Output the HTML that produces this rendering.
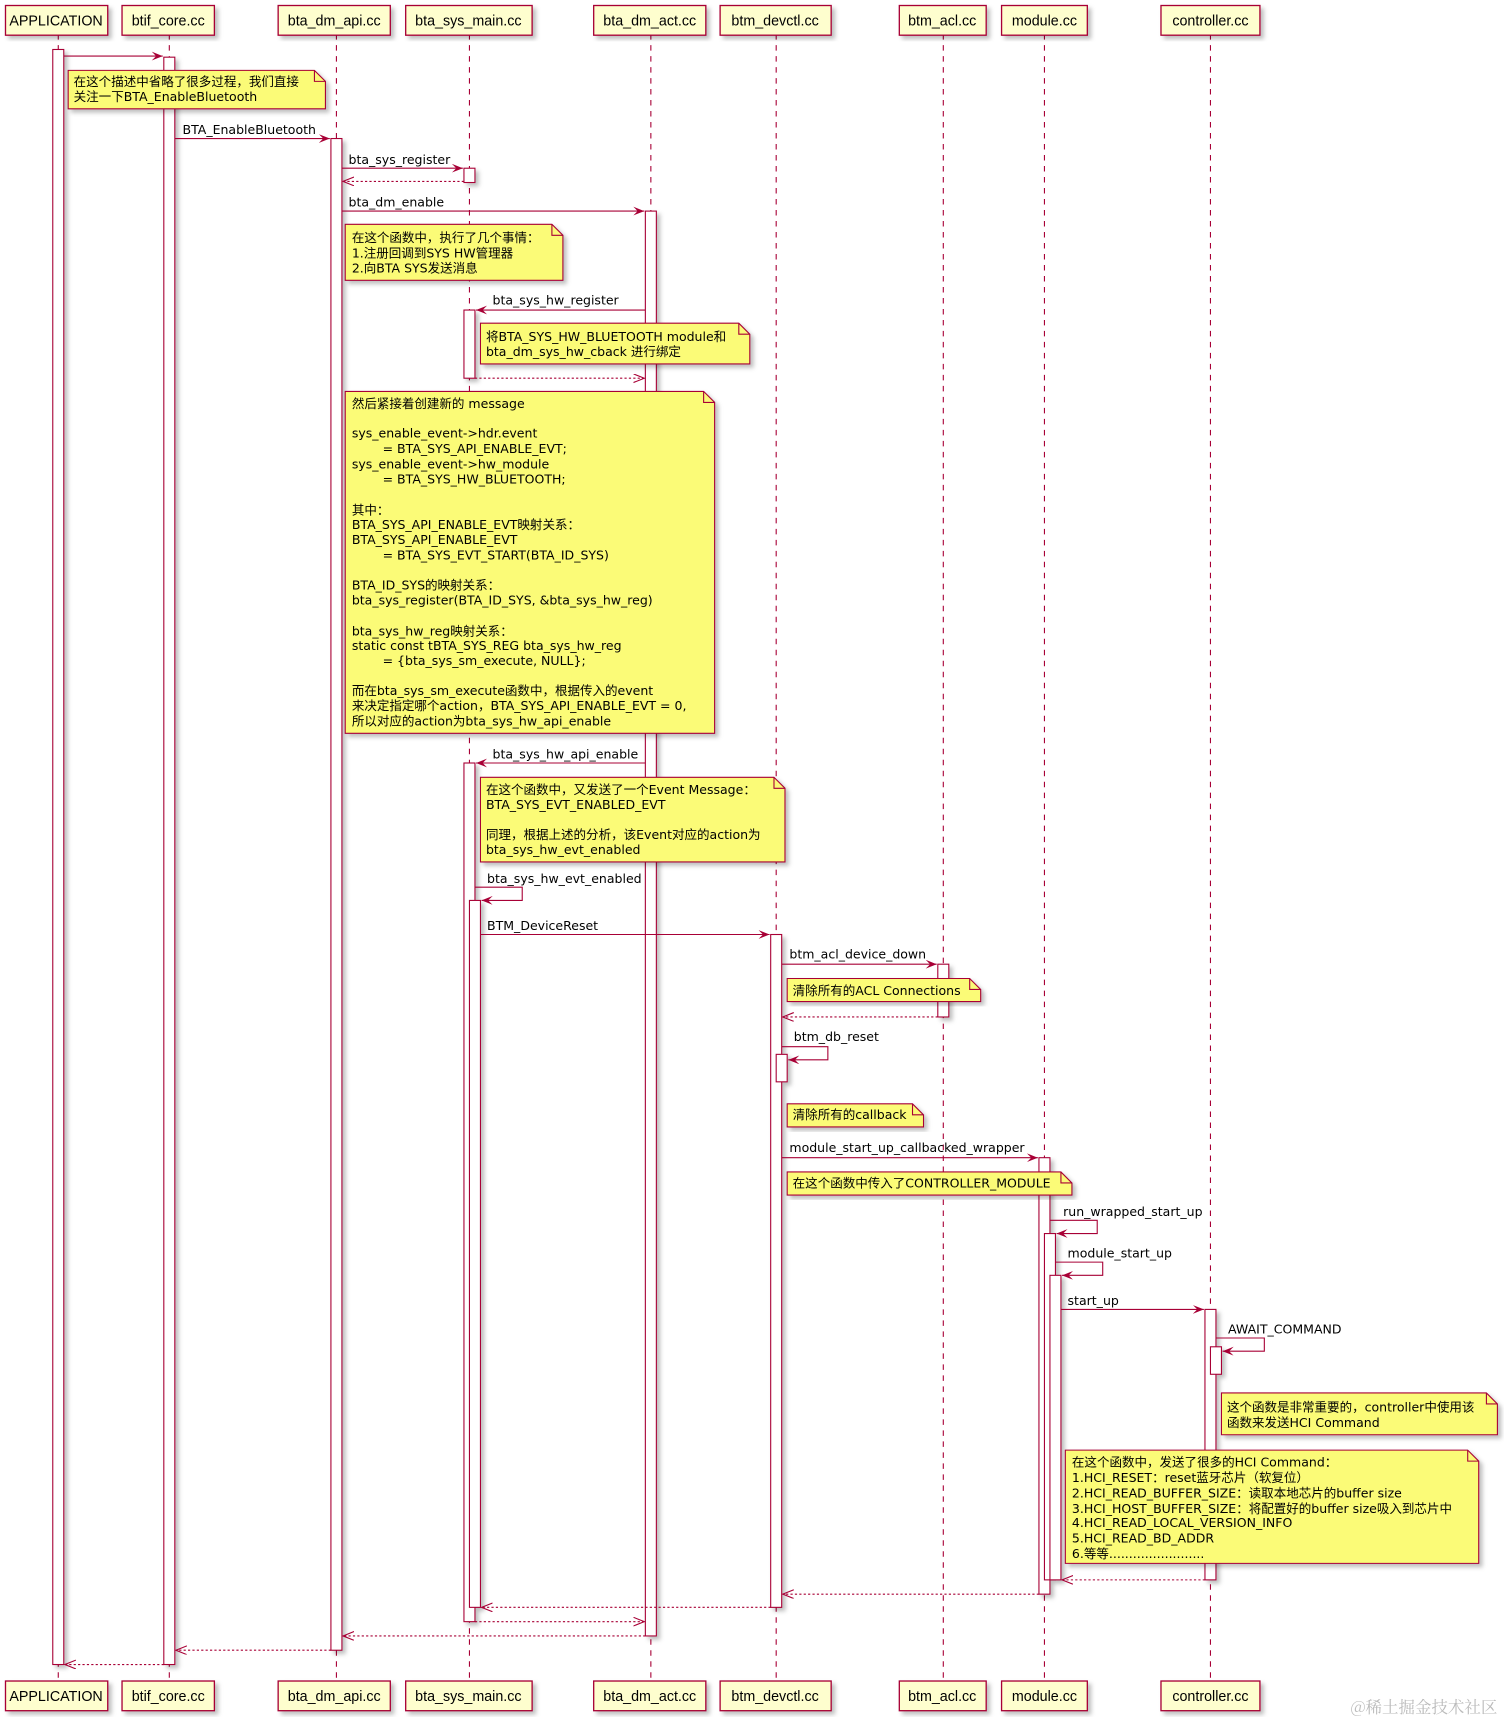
<!DOCTYPE html>
<html><head><meta charset="utf-8"><style>
html,body{margin:0;padding:0;background:#fff;}
svg{display:block;}
text{font-family:"DejaVu Sans","Noto Sans CJK SC",sans-serif;font-size:11.4px;fill:#000;}
.h{font-family:"Liberation Sans","Noto Sans CJK SC",sans-serif;font-size:13px;}
.pb{fill:#FEFECE;stroke:#A80036;stroke-width:1.2;filter:url(#sh);}
.ll{stroke:#A80036;stroke-width:1;stroke-dasharray:5,5;fill:none;}
.ac{fill:#fff;stroke:#A80036;stroke-width:1;}
.m{stroke:#A80036;stroke-width:1;fill:none;}
.d{stroke:#A80036;stroke-width:1;fill:none;stroke-dasharray:2,2;}
.n{fill:#FBFB77;stroke:#A80036;stroke-width:1;filter:url(#sh);}
.oh{fill:none;stroke:#A80036;stroke-width:1;}
</style></head><body>
<svg width="1504" height="1725" viewBox="0 0 1368 1569" xmlns="http://www.w3.org/2000/svg">
<defs>
<filter id="sh" x="-10%" y="-10%" width="130%" height="130%"><feDropShadow dx="3" dy="3" stdDeviation="2" flood-color="#000" flood-opacity="0.25"/></filter>
<marker id="a" markerWidth="12" markerHeight="10" refX="10" refY="4" orient="auto" markerUnits="userSpaceOnUse"><path d="M0,0 L10,4 L0,8 L4,4 Z" fill="#A80036"/></marker>
<marker id="o" markerWidth="12" markerHeight="10" refX="10" refY="4" orient="auto" markerUnits="userSpaceOnUse"><path d="M0,0 L10,4 L0,8" fill="none" stroke="#A80036"/></marker>
</defs>
<g class="ll">
<line x1="53" y1="31" x2="53" y2="1529"/><line x1="154" y1="31" x2="154" y2="1529"/>
<line x1="306" y1="31" x2="306" y2="1529"/><line x1="427" y1="31" x2="427" y2="1529"/>
<line x1="592" y1="31" x2="592" y2="1529"/><line x1="706" y1="31" x2="706" y2="1529"/>
<line x1="858" y1="31" x2="858" y2="1529"/><line x1="950" y1="31" x2="950" y2="1529"/>
<line x1="1101" y1="31" x2="1101" y2="1529"/>
</g>
<g>
<rect class="pb" x="5" y="5" width="93" height="27"/><text class="h" x="51" y="23" text-anchor="middle">APPLICATION</text>
<rect class="pb" x="111" y="5" width="84" height="27"/><text class="h" x="153" y="23" text-anchor="middle">btif_core.cc</text>
<rect class="pb" x="253" y="5" width="102" height="27"/><text class="h" x="304" y="23" text-anchor="middle">bta_dm_api.cc</text>
<rect class="pb" x="369" y="5" width="115" height="27"/><text class="h" x="426" y="23" text-anchor="middle">bta_sys_main.cc</text>
<rect class="pb" x="540" y="5" width="102" height="27"/><text class="h" x="591" y="23" text-anchor="middle">bta_dm_act.cc</text>
<rect class="pb" x="655" y="5" width="101" height="27"/><text class="h" x="705" y="23" text-anchor="middle">btm_devctl.cc</text>
<rect class="pb" x="818" y="5" width="79" height="27"/><text class="h" x="857" y="23" text-anchor="middle">btm_acl.cc</text>
<rect class="pb" x="911" y="5" width="78" height="27"/><text class="h" x="950" y="23" text-anchor="middle">module.cc</text>
<rect class="pb" x="1056" y="5" width="90" height="27"/><text class="h" x="1101" y="23" text-anchor="middle">controller.cc</text>

<rect class="pb" x="5" y="1529" width="93" height="27"/><text class="h" x="51" y="1547" text-anchor="middle">APPLICATION</text>
<rect class="pb" x="111" y="1529" width="84" height="27"/><text class="h" x="153" y="1547" text-anchor="middle">btif_core.cc</text>
<rect class="pb" x="253" y="1529" width="102" height="27"/><text class="h" x="304" y="1547" text-anchor="middle">bta_dm_api.cc</text>
<rect class="pb" x="369" y="1529" width="115" height="27"/><text class="h" x="426" y="1547" text-anchor="middle">bta_sys_main.cc</text>
<rect class="pb" x="540" y="1529" width="102" height="27"/><text class="h" x="591" y="1547" text-anchor="middle">bta_dm_act.cc</text>
<rect class="pb" x="655" y="1529" width="101" height="27"/><text class="h" x="705" y="1547" text-anchor="middle">btm_devctl.cc</text>
<rect class="pb" x="818" y="1529" width="79" height="27"/><text class="h" x="857" y="1547" text-anchor="middle">btm_acl.cc</text>
<rect class="pb" x="911" y="1529" width="78" height="27"/><text class="h" x="950" y="1547" text-anchor="middle">module.cc</text>
<rect class="pb" x="1056" y="1529" width="90" height="27"/><text class="h" x="1101" y="1547" text-anchor="middle">controller.cc</text>
</g>
<g class="ac" style="filter:url(#sh)">
<rect x="48" y="45" width="10" height="1469"/>
<rect x="149" y="52" width="10" height="1462"/>
<rect x="301" y="126" width="10" height="1375"/>
<rect x="422" y="153" width="10" height="13"/>
<rect x="422" y="282" width="10" height="62"/>
<rect x="422" y="694" width="10" height="781"/>
<rect x="427" y="819" width="10" height="643"/>
<rect x="587" y="192" width="10" height="1296"/>
<rect x="701" y="850" width="10" height="612"/>
<rect x="706" y="959" width="10" height="25"/>
<rect x="853" y="877" width="10" height="48"/>
<rect x="945" y="1053" width="10" height="397"/>
<rect x="950" y="1122" width="10" height="315"/>
<rect x="955" y="1160" width="10" height="277"/>
<rect x="1096" y="1191" width="10" height="246"/>
<rect x="1101" y="1225" width="10" height="25"/>
</g>
<g>
<line class="m" x1="58" y1="51" x2="148" y2="51" marker-end="url(#a)"/>
<line class="m" x1="159" y1="126" x2="300" y2="126" marker-end="url(#a)"/><text x="166" y="122">BTA_EnableBluetooth</text>
<line class="m" x1="311" y1="153" x2="421" y2="153" marker-end="url(#a)"/><text x="317" y="149">bta_sys_register</text>
<line class="d" x1="422" y1="165" x2="312" y2="165" marker-end="url(#o)"/>
<line class="m" x1="311" y1="192" x2="586" y2="192" marker-end="url(#a)"/><text x="317" y="188">bta_dm_enable</text>
<line class="m" x1="587" y1="282" x2="433" y2="282" marker-end="url(#a)"/><text x="448" y="277">bta_sys_hw_register</text>
<line class="d" x1="432" y1="344" x2="586" y2="344" marker-end="url(#o)"/>
<line class="m" x1="587" y1="694" x2="433" y2="694" marker-end="url(#a)"/><text x="448" y="690">bta_sys_hw_api_enable</text>
<polyline class="m" points="432,807 475,807 475,819 438,819" marker-end="url(#a)"/><text x="443" y="803">bta_sys_hw_evt_enabled</text>
<line class="m" x1="437" y1="850" x2="700" y2="850" marker-end="url(#a)"/><text x="443" y="846">BTM_DeviceReset</text>
<line class="m" x1="711" y1="877" x2="852" y2="877" marker-end="url(#a)"/><text x="718" y="872">btm_acl_device_down</text>
<line class="d" x1="853" y1="925" x2="712" y2="925" marker-end="url(#o)"/>
<polyline class="m" points="711,952 753,952 753,964 717,964" marker-end="url(#a)"/><text x="722" y="947">btm_db_reset</text>
<line class="m" x1="711" y1="1053" x2="944" y2="1053" marker-end="url(#a)"/><text x="718" y="1048">module_start_up_callbacked_wrapper</text>
<polyline class="m" points="955,1110 998,1110 998,1122 961,1122" marker-end="url(#a)"/><text x="967" y="1106">run_wrapped_start_up</text>
<polyline class="m" points="960,1148 1003,1148 1003,1160 966,1160" marker-end="url(#a)"/><text x="971" y="1144">module_start_up</text>
<line class="m" x1="965" y1="1191" x2="1095" y2="1191" marker-end="url(#a)"/><text x="971" y="1187">start_up</text>
<polyline class="m" points="1106,1217 1150,1217 1150,1229 1112,1229" marker-end="url(#a)"/><text x="1117" y="1213">AWAIT_COMMAND</text>
<line class="d" x1="1096" y1="1437" x2="966" y2="1437" marker-end="url(#o)"/>
<line class="d" x1="945" y1="1450" x2="712" y2="1450" marker-end="url(#o)"/>
<line class="d" x1="701" y1="1462" x2="438" y2="1462" marker-end="url(#o)"/>
<line class="d" x1="432" y1="1475" x2="586" y2="1475" marker-end="url(#o)"/>
<line class="d" x1="587" y1="1488" x2="312" y2="1488" marker-end="url(#o)"/>
<line class="d" x1="301" y1="1501" x2="160" y2="1501" marker-end="url(#o)"/>
<line class="d" x1="149" y1="1514" x2="59" y2="1514" marker-end="url(#o)"/>
</g>
<g>
<path class="n" d="M62,64 L286,64 L296,74 L296,99 L62,99 Z"/><path class="oh" d="M286,64 L286,74 L296,74"/>
<text x="67" y="78">在这个描述中省略了很多过程，我们直接</text><text x="67" y="92">关注一下BTA_EnableBluetooth</text>

<path class="n" d="M314,204 L502,204 L512,214 L512,255 L314,255 Z"/><path class="oh" d="M502,204 L502,214 L512,214"/>
<text x="320" y="220">在这个函数中，执行了几个事情：</text><text x="320" y="234">1.注册回调到SYS HW管理器</text><text x="320" y="248">2.向BTA SYS发送消息</text>

<path class="n" d="M437,294 L672,294 L682,304 L682,331 L437,331 Z"/><path class="oh" d="M672,294 L672,304 L682,304"/>
<text x="442" y="310">将BTA_SYS_HW_BLUETOOTH module和</text><text x="442" y="324">bta_dm_sys_hw_cback 进行绑定</text>

<path class="n" d="M314,356 L640,356 L650,366 L650,667 L314,667 Z"/><path class="oh" d="M640,356 L640,366 L650,366"/>
<text x="320" y="371">然后紧接着创建新的 message</text>
<text x="320" y="398">sys_enable_event-&gt;hdr.event</text>
<text x="348" y="412">= BTA_SYS_API_ENABLE_EVT;</text>
<text x="320" y="426">sys_enable_event-&gt;hw_module</text>
<text x="348" y="440">= BTA_SYS_HW_BLUETOOTH;</text>
<text x="320" y="468">其中：</text>
<text x="320" y="481">BTA_SYS_API_ENABLE_EVT映射关系：</text>
<text x="320" y="495">BTA_SYS_API_ENABLE_EVT</text>
<text x="348" y="509">= BTA_SYS_EVT_START(BTA_ID_SYS)</text>
<text x="320" y="536">BTA_ID_SYS的映射关系：</text>
<text x="320" y="550">bta_sys_register(BTA_ID_SYS, &amp;bta_sys_hw_reg)</text>
<text x="320" y="578">bta_sys_hw_reg映射关系：</text>
<text x="320" y="591">static const tBTA_SYS_REG bta_sys_hw_reg</text>
<text x="348" y="605">= {bta_sys_sm_execute, NULL};</text>
<text x="320" y="632">而在bta_sys_sm_execute函数中，根据传入的event</text>
<text x="320" y="646">来决定指定哪个action，BTA_SYS_API_ENABLE_EVT = 0,</text>
<text x="320" y="660">所以对应的action为bta_sys_hw_api_enable</text>

<path class="n" d="M437,707 L704,707 L714,717 L714,784 L437,784 Z"/><path class="oh" d="M704,707 L704,717 L714,717"/>
<text x="442" y="722">在这个函数中，又发送了一个Event Message：</text><text x="442" y="736">BTA_SYS_EVT_ENABLED_EVT</text>
<text x="442" y="763">同理，根据上述的分析，该Event对应的action为</text><text x="442" y="777">bta_sys_hw_evt_enabled</text>

<path class="n" d="M716,890 L882,890 L892,900 L892,911 L716,911 Z"/><path class="oh" d="M882,890 L882,900 L892,900"/>
<text x="721" y="905">清除所有的ACL Connections</text>

<path class="n" d="M716,1004 L830,1004 L840,1014 L840,1025 L716,1025 Z"/><path class="oh" d="M830,1004 L830,1014 L840,1014"/>
<text x="721" y="1018">清除所有的callback</text>

<path class="n" d="M716,1066 L965,1066 L975,1076 L975,1087 L716,1087 Z"/><path class="oh" d="M965,1066 L965,1076 L975,1076"/>
<text x="721" y="1080">在这个函数中传入了CONTROLLER_MODULE</text>

<path class="n" d="M1111,1267 L1352,1267 L1362,1277 L1362,1305 L1111,1305 Z"/><path class="oh" d="M1352,1267 L1352,1277 L1362,1277"/>
<text x="1116" y="1284">这个函数是非常重要的，controller中使用该</text><text x="1116" y="1298">函数来发送HCI Command</text>

<path class="n" d="M969,1319 L1335,1319 L1345,1329 L1345,1422 L969,1422 Z"/><path class="oh" d="M1335,1319 L1335,1329 L1345,1329"/>
<text x="975" y="1334">在这个函数中，发送了很多的HCI Command：</text>
<text x="975" y="1348">1.HCI_RESET：reset蓝牙芯片（软复位）</text>
<text x="975" y="1362">2.HCI_READ_BUFFER_SIZE：读取本地芯片的buffer size</text>
<text x="975" y="1376">3.HCI_HOST_BUFFER_SIZE：将配置好的buffer size吸入到芯片中</text>
<text x="975" y="1389">4.HCI_READ_LOCAL_VERSION_INFO</text>
<text x="975" y="1403">5.HCI_READ_BD_ADDR</text>
<text x="975" y="1417">6.等等........................</text>
</g>
<text x="1362" y="1558" text-anchor="end" style="font-size:15px;fill:#bbbbbb;font-family:'Noto Serif CJK SC','Noto Sans CJK SC',serif;">@稀土掘金技术社区</text>
</svg>
</body></html>
